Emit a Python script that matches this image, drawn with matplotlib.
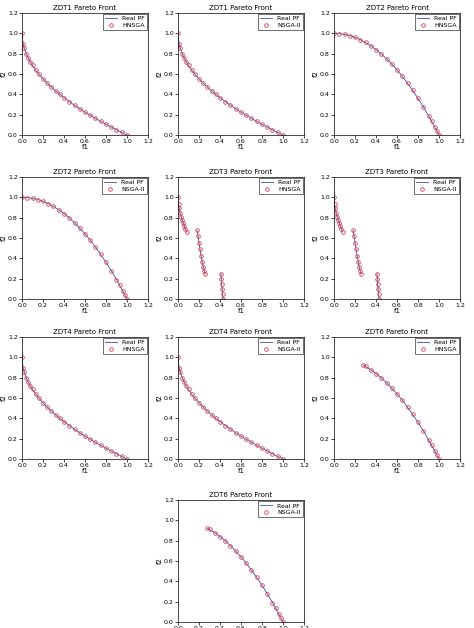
import matplotlib
matplotlib.use("Agg")
import matplotlib.pyplot as plt

# Pareto front samples
zdt1_f1 = [0.0, 0.01, 0.02, 0.04, 0.06, 0.08, 0.1, 0.13, 0.16, 0.2, 0.24, 0.28, 0.32, 0.36, 0.4, 0.45, 0.5, 0.55, 0.6, 0.65, 0.7, 0.75, 0.8, 0.85, 0.9, 0.95, 1.0]
zdt1_f2 = [1.0, 0.9, 0.86, 0.8, 0.755, 0.717, 0.684, 0.639, 0.6, 0.553, 0.51, 0.471, 0.434, 0.4, 0.368, 0.329, 0.293, 0.258, 0.225, 0.194, 0.163, 0.134, 0.106, 0.078, 0.051, 0.025, 0.0]
zdt2_f1 = [0.0, 0.05, 0.1, 0.15, 0.2, 0.25, 0.3, 0.35, 0.4, 0.45, 0.5, 0.55, 0.6, 0.65, 0.7, 0.75, 0.8, 0.85, 0.9, 0.93, 0.96, 0.98, 1.0]
zdt2_f2 = [1.0, 0.998, 0.99, 0.978, 0.96, 0.938, 0.91, 0.878, 0.84, 0.798, 0.75, 0.698, 0.64, 0.578, 0.51, 0.438, 0.36, 0.278, 0.19, 0.135, 0.078, 0.04, 0.0]
zdt3_segs_f1 = [[0.0, 0.005, 0.01, 0.02, 0.03, 0.04, 0.05, 0.06, 0.07, 0.083],
                [0.182, 0.19, 0.2, 0.21, 0.22, 0.23, 0.24, 0.25, 0.258],
                [0.409, 0.412, 0.415, 0.42, 0.425, 0.43]]
zdt3_segs_f2 = [[1.0, 0.93, 0.9, 0.848, 0.81, 0.776, 0.75, 0.72, 0.69, 0.66],
                [0.675, 0.622, 0.553, 0.487, 0.424, 0.366, 0.315, 0.273, 0.245],
                [0.25, 0.2, 0.15, 0.1, 0.05, 0.0]]
zdt6_f1 = [0.28, 0.3, 0.35, 0.4, 0.45, 0.5, 0.55, 0.6, 0.65, 0.7, 0.75, 0.8, 0.85, 0.9, 0.93, 0.96, 0.98, 1.0]
zdt6_f2 = [0.92, 0.91, 0.878, 0.84, 0.798, 0.75, 0.698, 0.64, 0.578, 0.51, 0.438, 0.36, 0.278, 0.19, 0.135, 0.078, 0.04, 0.0]

titles = ["ZDT1 Pareto Front", "ZDT1 Pareto Front", "ZDT2 Pareto Front",
          "ZDT2 Pareto Front", "ZDT3 Pareto Front", "ZDT3 Pareto Front",
          "ZDT4 Pareto Front", "ZDT4 Pareto Front", "ZDT6 Pareto Front",
          "ZDT6 Pareto Front"]
algos = ["HNSGA", "NSGA-II", "HNSGA", "NSGA-II", "HNSGA", "NSGA-II",
         "HNSGA", "NSGA-II", "HNSGA", "NSGA-II"]
fronts = [[(zdt1_f1, zdt1_f2)], [(zdt1_f1, zdt1_f2)], [(zdt2_f1, zdt2_f2)],
          [(zdt2_f1, zdt2_f2)], list(zip(zdt3_segs_f1, zdt3_segs_f2)),
          list(zip(zdt3_segs_f1, zdt3_segs_f2)), [(zdt1_f1, zdt1_f2)],
          [(zdt1_f1, zdt1_f2)], [(zdt6_f1, zdt6_f2)], [(zdt6_f1, zdt6_f2)]]

fig = plt.figure(figsize=(4.74, 6.28), dpi=100)
W, H = 474, 628
cols = [22, 178, 334]
rows = [13, 177, 337, 500]
aw, ah = 126, 122
ticks = [0, 0.2, 0.4, 0.6, 0.8, 1.0, 1.2]
labels = ["0.0", "0.2", "0.4", "0.6", "0.8", "1.0", "1.2"]
for i in range(10):
    r, c = divmod(i, 3)
    if i == 9:
        c = 1
    x0, y0 = cols[c], rows[r]
    ax = fig.add_axes([x0 / W, 1 - (y0 + ah) / H, aw / W, ah / H])
    for j, (fx, fy) in enumerate(fronts[i]):
        ax.plot(fx, fy, color="#3a4fa8", lw=0.6, label="Real PF" if j == 0 else None)
    for j, (fx, fy) in enumerate(fronts[i]):
        ax.plot(fx, fy, "o", ms=2.6, mfc="none", mec="#d9405a", mew=0.6,
                label=algos[i] if j == 0 else None)
    ax.set_xlim(0, 1.2)
    ax.set_ylim(0, 1.2)
    ax.set_xticks(ticks)
    ax.set_yticks(ticks)
    ax.set_xticklabels(labels)
    ax.set_yticklabels(labels)
    ax.tick_params(labelsize=4.5, length=2, width=0.5, pad=1)
    for s in ax.spines.values():
        s.set_linewidth(0.5)
    ax.set_title(titles[i], fontsize=5, pad=2)
    ax.set_xlabel("f1", fontsize=5, labelpad=0)
    ax.set_ylabel("f2", fontsize=5, labelpad=1)
    leg = ax.legend(loc="upper right", fontsize=4.5, frameon=True, fancybox=False,
                    borderpad=0.3, handlelength=2, labelspacing=0.2, borderaxespad=0.2)
    leg.get_frame().set_linewidth(0.5)
    leg.get_frame().set_edgecolor("black")

fig.savefig("out.png", dpi=100)
